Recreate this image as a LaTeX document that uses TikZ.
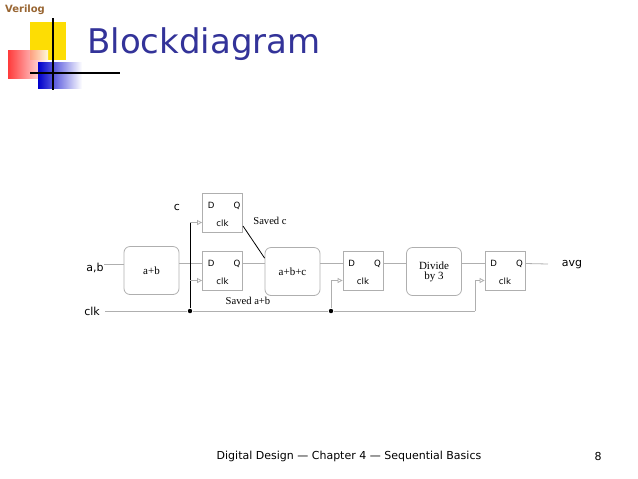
\documentclass[tikz,border=0pt]{standalone}
\usepackage{fontspec}
\setmainfont{DejaVu Sans}
\newfontfamily\serifdiag{Liberation Serif}
\usetikzlibrary{arrows.meta, positioning, calc}
\definecolor{titleblue}{RGB}{51,51,153}
\definecolor{wire}{RGB}{175,175,175}
\definecolor{brownish}{RGB}{153,102,51}
\tikzset{
    opBox/.style={draw=wire, rounded corners=3pt, minimum width=27.5pt, minimum height=24pt, inner sep=0pt, font=\serifdiag\fontsize{5.5}{6}\selectfont, align=center},
    ffBox/.style={draw=wire, minimum width=20pt, minimum height=19.5pt, inner sep=0pt},
    ffText/.style={font=\fontsize{4.3}{5}\selectfont, inner sep=0pt},
    sigText/.style={font=\fontsize{5.5}{6}\selectfont, inner sep=0pt},
    noteText/.style={font=\serifdiag\fontsize{5.3}{6}\selectfont, inner sep=0pt},
    wireEdge/.style={draw=wire, thin},
    clkEdge/.style={draw=wire, thin, -{Triangle[open, length=2.5pt, width=2.5pt]}},
    tap/.style={circle, fill=black, inner sep=0pt, minimum size=2.2pt},
}
\newcommand{\drawFF}[2]{
    \node[ffBox] (#1) at (#2) {};
    \node[ffText] (#1D) at ($(#1.west)+(4.5pt,3.5pt)$) {D};
    \node[ffText] (#1Q) at ($(#1.east)+(-3pt,3.5pt)$) {Q};
    \node[ffText] (#1C) at ($(#1.south)+(0,4.5pt)$) {clk};
    \coordinate (#1in) at ($(#1.west)+(0,3.5pt)$);
    \coordinate (#1out) at ($(#1.east)+(0,3.5pt)$);
    \coordinate (#1clk) at ($(#1.west)+(0,-5pt)$);
}
\begin{document}
\begin{tikzpicture}[x=0.5pt, y=-0.5pt]
    \useasboundingbox (0,0) rectangle (638,478);
    % logo
    \fill[yellow!80!orange] (30,22) rectangle (66,60);
    \shade[left color=red!90, right color=white, opacity=0.85] (8,50) rectangle (48,78);
    \shade[left color=blue!80!black, right color=white] (38,62) rectangle (82,88);
    \draw[black, line width=0.8pt] (53,18) -- (53,90);
    \draw[black, line width=0.8pt] (30,73) -- (120,73);
    \node[font=\bfseries\fontsize{5}{6}\selectfont, text=brownish] (tag) at (25,10) {Verilog};
    \node[font=\fontsize{17}{20}\selectfont, text=titleblue, anchor=west, inner sep=0pt] (title) at (87,44) {Blockdiagram};
    % blocks
    \node[opBox] (sum1) at (151.5,270.5) {a+b};
    \drawFF{ffAB}{222.5,270.5}
    \drawFF{ffC}{222.5,212.5}
    \node[opBox] (sum2) at (292.5,271.5) {a+b+c};
    \drawFF{ffSum}{363,270.5}
    \node[opBox] (div) at (434,271.5) {Divide\\[-1pt]by 3};
    \drawFF{ffAvg}{505,270.5}
    % texts
    \node[sigText] (ab) at (95,268) {a,b};
    \node[sigText] (cin) at (177,207) {c};
    \node[sigText] (clk) at (92,311) {clk};
    \node[sigText] (avg) at (572,265) {avg};
    \node[noteText] (savedC) at (270,221) {Saved c};
    \node[noteText] (savedAB) at (248,301) {Saved a+b};
    \coordinate (abEnd) at (104,264);
    \coordinate (clkEnd) at (105,311);
    \coordinate (avgEnd) at (548,264);
    \coordinate (clkTurn) at (475,311);
    \coordinate (cTail) at (243,226);
    \node[tap] (tap1) at (190,311) {};
    \node[tap] (tap2) at (331,311) {};
    % wires
    \draw[wireEdge] (abEnd) -- (abEnd -| sum1.west);
    \draw[wireEdge] (ffABin -| sum1.east) -- (ffABin);
    \draw[wireEdge] (ffABout) -- (ffABout -| sum2.west);
    \draw[black, thin] (cTail) -- ($(sum2.north west)+(0,-5.5pt)$);
    \draw[wireEdge] (ffSumin -| sum2.east) -- (ffSumin);
    \draw[wireEdge] (ffSumout) -- (ffSumout -| div.west);
    \draw[wireEdge] (ffAvgin -| div.east) -- (ffAvgin);
    \draw[wireEdge] (ffAvgout) -- (avgEnd);
    \draw[wireEdge] (clkEnd) -- (tap1) -- (tap2) -- (clkTurn);
    \draw[clkEdge] (clkTurn) |- (ffAvgclk);
    \draw[black, thin] (tap1) -- (tap1 |- ffCclk) -- ++(5,0);
    \draw[clkEdge] (tap1 |- ffCclk) -- (ffCclk);
    \draw[clkEdge] (tap1 |- ffABclk) -- (ffABclk);
    \draw[clkEdge] (tap2) |- (ffSumclk);
    % footer
    \node[font=\fontsize{5.5}{7}\selectfont] (foot) at (349,456) {Digital Design — Chapter 4 — Sequential Basics};
    \node[font=\fontsize{5.5}{7}\selectfont] (page) at (598,456) {8};
\end{tikzpicture}
\end{document}
